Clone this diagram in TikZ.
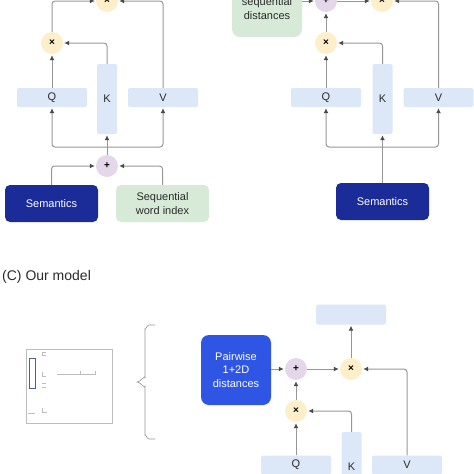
\documentclass[tikz,border=0pt]{standalone}
\usepackage{fontspec}
\setmainfont{Liberation Sans}
\usetikzlibrary{arrows.meta}

\definecolor{qkvblue}{HTML}{DCE8F8}
\definecolor{mulyellow}{HTML}{FCEFC9}
\definecolor{addpurple}{HTML}{E4D7EA}
\definecolor{seqgreen}{HTML}{D7EAD8}
\definecolor{semblue}{HTML}{1B2C98}
\definecolor{pairblue}{HTML}{2E55E4}
\definecolor{linegray}{HTML}{969696}
\definecolor{tipgray}{HTML}{4A4A4A}
\definecolor{txtgray}{HTML}{2A2A2A}
\definecolor{docgray}{HTML}{BDBDBD}
\definecolor{docblue}{HTML}{4A6296}

\begin{document}
\begin{tikzpicture}[x=1pt, y=-1pt,
		qkv/.style={fill=qkvblue, rounded corners=2pt, text=txtgray, inner sep=0pt, font=\fontsize{11}{13}\selectfont},
		wide/.style={qkv, minimum width=70pt, minimum height=19pt},
		tall/.style={qkv, minimum width=20pt, minimum height=70pt},
		opnode/.style={circle, minimum size=22pt, inner sep=0pt, text=black, font=\fontsize{10}{10}\selectfont\bfseries},
		mul/.style={opnode, fill=mulyellow},
		add/.style={opnode, fill=addpurple},
		input/.style={rounded corners=5pt, minimum width=93pt, minimum height=37pt, inner sep=0pt, align=center, font=\fontsize{11}{13.5}\selectfont},
		flow/.style={draw=linegray, line width=1pt, rounded corners=3pt, shorten >=1pt, -{Latex[length=5pt, width=5pt, color=tipgray]}},
		wire/.style={draw=linegray, line width=1pt, rounded corners=3pt},
		docmark/.style={draw=docgray, line width=0.5pt},
	]
	\useasboundingbox (0,0) rectangle (474,474);
	\clip (0,0) rectangle (474,474);

	% (A) sequential word index
	\node[input, fill=semblue, text=white] (semA) at (51.5,203.5) {Semantics};
	\node[input, fill=seqgreen, text=txtgray] (seqidx) at (162.5,203.5) {Sequential\\word index};
	\node[add] (plusA) at (107,166) {+};
	\coordinate (busA) at (107,147);
	\node[wide] (qA) at (52,97.5) {Q};
	\node[tall] (kA) at (107,99) {K};
	\node[wide] (vA) at (163,97.5) {V};
	\node[mul] (mulqkA) at (52,43) {×};
	\node[mul] (mulA) at (107,1) {×};

	\draw[flow] (semA.north) |- (plusA);
	\draw[flow] (seqidx.north) |- (plusA);
	\draw[flow] (plusA) -- (kA);
	\draw[flow] (busA) -| (qA);
	\draw[flow] (busA) -| (vA);
	\draw[flow] (qA) -- (mulqkA);
	\draw[flow] (kA.north) |- (mulqkA);
	\draw[flow] (mulqkA) |- (mulA);
	\draw[flow] (vA) |- (mulA);

	% (B) sequential distances
	\node[input, fill=seqgreen, text=txtgray, minimum width=70pt, minimum height=57pt, rounded corners=8pt] (seqdist) at (267,8.5) {sequential\\distances};
	\node[add] (plusB) at (326,1) {+};
	\node[mul] (mulB) at (382,1) {×};
	\node[mul] (mulqkB) at (326,43) {×};
	\node[wide] (qB) at (326,97.5) {Q};
	\node[tall] (kB) at (382.5,99) {K};
	\node[wide] (vB) at (438.5,97.5) {V};
	\coordinate (busB) at (382.5,147);
	\node[input, fill=semblue, text=white] (semB) at (382.5,201.5) {Semantics};

	\draw[flow] (seqdist.east |- plusB) -- (plusB);
	\draw[flow] (plusB) -- (mulB);
	\draw[flow] (mulqkB) -- (plusB);
	\draw[flow] (qB) -- (mulqkB);
	\draw[flow] (kB.north) |- (mulqkB);
	\draw[flow] (vB) |- (mulB);
	\draw[wire] (semB) -- (busB);
	\draw[flow] (busB) -- (kB);
	\draw[flow] (busB) -| (qB);
	\draw[flow] (busB) -| (vB);

	% (C) our model
	\node[anchor=west, text=txtgray, inner sep=0pt, font=\fontsize{14}{16}\selectfont] (title) at (2,277) {(C) Our model};

	\draw[draw=docgray, line width=0.6pt] (26,349) rectangle (112,423);
	\draw[draw=docblue, line width=1pt] (29,358) rectangle (35,388);
	\draw[docmark] (46,352) -- (42,352) -- (42,355) -- (46,355);
	\draw[docmark] (42,372) -- (42,376) -- (46,376);
	\draw[docmark] (42,383) -- (46,383) (42,387) -- (46,387);
	\draw[docmark] (42,408) -- (42,412) -- (47,412);
	\draw[docmark] (28,413) -- (35,413);
	\draw[docmark] (57,374) -- (95,374) -- (95,371) (80,374) -- (80,371);

	\draw[draw=linegray, line width=0.6pt] (155,325) -- (149,325) to[out=180, in=-90] (145,329) -- (145,378)
		to[out=90, in=0] (137,382) to[out=0, in=-90] (145,386) -- (145,435) to[out=90, in=180] (149,439) -- (155,439);

	\node[input, fill=pairblue, text=white, minimum width=70pt, minimum height=70pt, rounded corners=8pt] (pair) at (236,370) {Pairwise\\1+2D\\distances};
	\node[add] (plusC) at (296,369) {+};
	\node[mul] (mulC) at (351,369) {×};
	\node[wide, minimum height=20pt] (outC) at (351,314.5) {};
	\node[mul] (mulqkC) at (296,411) {×};
	\node[wide] (qC) at (296,465) {Q};
	\node[tall] (kC) at (351.5,467) {K};
	\node[wide] (vC) at (407,465) {V};

	\draw[flow] (pair.east |- plusC) -- (plusC);
	\draw[flow] (plusC) -- (mulC);
	\draw[flow] (mulC) -- (outC);
	\draw[flow] (vC) |- (mulC);
	\draw[flow] (mulqkC) -- (plusC);
	\draw[flow] (qC) -- (mulqkC);
	\draw[flow] (kC.north) |- (mulqkC);
\end{tikzpicture}
\end{document}
